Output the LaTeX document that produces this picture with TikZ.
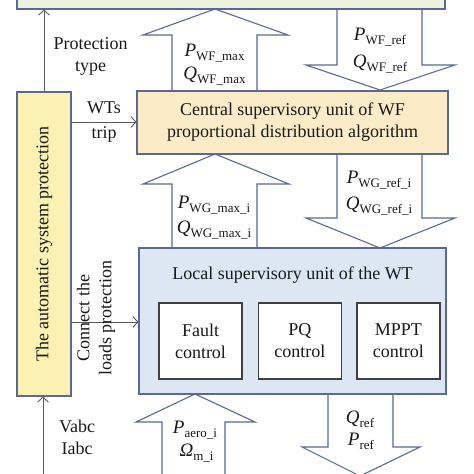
\documentclass[tikz,border=0pt]{standalone}
\usepackage{fontspec}
\setmainfont{Liberation Serif}
\usepackage{tikz}
\usetikzlibrary{positioning,arrows.meta}

\definecolor{verdeWF}{HTML}{ECF2DC}
\definecolor{gialloAP}{HTML}{FAF1B2}
\definecolor{aranciaCS}{HTML}{FBEBC6}
\definecolor{bluLS}{HTML}{DDE6F3}
\definecolor{bordoblu}{HTML}{5A6898}

% grandezza con pedice
\newcommand{\grandezza}[2]{{\fontsize{19}{19}\selectfont\itshape #1}\raisebox{-4pt}{\fontsize{13}{13}\selectfont #2}}

\begin{document}
\begin{tikzpicture}[x=1pt, y=-1pt, line width=1.1pt,
  every node/.style={font=\fontsize{18}{22}\selectfont, text=black!90},
  blocco/.style={draw=bordoblu, inner sep=0pt, align=center},
  controllo/.style={draw=black!75, fill=white, line width=1.4pt, minimum width=83pt, minimum height=76pt, inner sep=0pt, align=center},
  segnale/.style={draw=black!65, line width=0.9pt, -{Straight Barb[length=5pt, width=11pt]}},
  freccione/.style={draw=bordoblu, fill=white, line width=1.1pt},
  etichetta/.style={align=center, inner sep=0pt}]

\useasboundingbox (0,0) rectangle (474,474);
\clip (0,0) rectangle (474,474);

% Frecce grandi (sotto i blocchi)
\filldraw[freccione] (172,91) -- (172,35) -- (143,35) -- (215,9) -- (288,35) -- (257,35) -- (257,91);
\filldraw[freccione] (337,9) -- (337,65) -- (306,65) -- (380,90) -- (455,65) -- (422,65) -- (422,9);
\filldraw[freccione] (172,248) -- (172,184) -- (143,184) -- (215,154) -- (289,184) -- (257,184) -- (257,248);
\filldraw[freccione] (337,154) -- (337,218) -- (306,218) -- (380,248) -- (455,218) -- (422,218) -- (422,154);
\filldraw[freccione] (162,480) -- (162,422) -- (136,422) -- (195,394) -- (255,422) -- (225,422) -- (225,480);
\filldraw[freccione] (328,394) -- (328,447) -- (302,447) -- (360,476) -- (420,447) -- (393,447) -- (393,394);

% Blocchi
\node[blocco, fill=verdeWF, minimum width=428pt, minimum height=40pt] (wf) at (231,-11) {};
\node[blocco, fill=gialloAP, rotate=90, minimum width=304pt, minimum height=54pt] (asp) at (44,244) {The automatic system protection};
\node[blocco, fill=aranciaCS, minimum width=311pt, minimum height=63pt] (csu) at (292.5,122.5) {Central supervisory unit of WF\\proportional distribution algorithm};
\node[blocco, fill=bluLS, minimum width=307pt, minimum height=146pt] (lsu) at (292.5,321) {};
\node (titolo) at (292.5,275) {Local supervisory unit of the WT};

% Controlli interni
\node[controllo] (fault) at (200.5,341) {Fault\\control};
\node[controllo, right=15pt of fault] (pq) {PQ\\control};
\node[controllo, right=14pt of pq] (mppt) {MPPT\\control};

% Segnali di protezione
\coordinate (yTrip) at (0,122);
\coordinate (yCarichi) at (0,322);
\coordinate (misure) at (43,480);
\draw[segnale] (asp.east) -- (asp.east |- wf.south);
\draw[segnale] (asp.south |- yTrip) -- (csu.west |- yTrip);
\draw[segnale] (asp.south |- yCarichi) -- (lsu.west |- yCarichi);
\draw[segnale] (misure) -- (misure |- asp.west);

% Etichette segnali
\node[etichetta] (ptipo) at (90.5,56) {Protection\\type};
\node (wts) at (104,108) {WTs};
\node (trip) at (104,134) {trip};
\node[etichetta, rotate=90] (carichi) at (96,318) {Connect the\\loads protection};
\node[etichetta] (vi) at (77,437) {Vabc\\Iabc};

% Etichette frecce grandi
\node[anchor=base] (pwfmax) at (214.5,56) {\grandezza{P}{WF\_max}};
\node[anchor=base] (qwfmax) at (214.5,79) {\grandezza{Q}{WF\_max}};
\node[anchor=base] (pwfref) at (380,40) {\grandezza{P}{WF\_ref}};
\node[anchor=base] (qwfref) at (380,67) {\grandezza{Q}{WF\_ref}};
\node[anchor=base] (pwgmax) at (214,208) {\grandezza{P}{WG\_max\_i}};
\node[anchor=base] (qwgmax) at (214,233) {\grandezza{Q}{WG\_max\_i}};
\node[anchor=base] (pwgref) at (379,183) {\grandezza{P}{WG\_ref\_i}};
\node[anchor=base] (qwgref) at (379,209) {\grandezza{Q}{WG\_ref\_i}};
\node[anchor=base] (paero) at (195,433) {\grandezza{P}{aero\_i}};
\node[anchor=base] (omega) at (196.5,456) {\grandezza{Ω}{m\_i}};
\node[anchor=base] (qref) at (360,423) {\grandezza{Q}{ref}};
\node[anchor=base] (pref) at (361,445) {\grandezza{P}{ref}};

\end{tikzpicture}
\end{document}
